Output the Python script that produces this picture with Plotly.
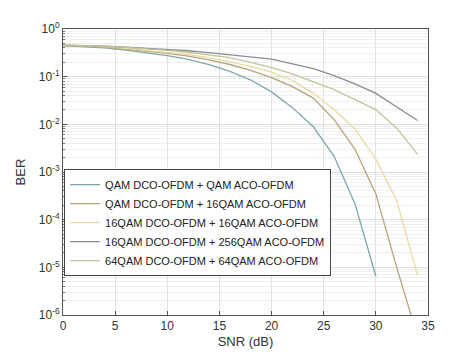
import plotly.graph_objects as go

snr = [0, 2, 4, 6, 8, 10, 12, 14, 16, 18, 20, 22, 24, 26, 28, 30, 32, 34]

names = [
    "QAM DCO-OFDM + QAM ACO-OFDM",
    "QAM DCO-OFDM + 16QAM ACO-OFDM",
    "16QAM DCO-OFDM + 16QAM ACO-OFDM",
    "16QAM DCO-OFDM + 256QAM ACO-OFDM",
    "64QAM DCO-OFDM + 64QAM ACO-OFDM",
]

ber_qam_qam = [0.45, 0.43, 0.40, 0.36, 0.32, 0.275, 0.23, 0.178, 0.129, 0.085,
               0.048, 0.0224, 0.0089, 0.00214, 0.000214, 0.0000065]
ber_qam_16qam = [0.45, 0.435, 0.41, 0.38, 0.345, 0.31, 0.27, 0.225, 0.18, 0.135,
                 0.095, 0.062, 0.0355, 0.0126, 0.0030, 0.000347, 0.00001, 0.00000035]
ber_16qam_16qam = [0.46, 0.445, 0.425, 0.395, 0.36, 0.325, 0.29, 0.25, 0.205, 0.165,
                   0.125, 0.083, 0.0447, 0.0204, 0.0079, 0.00186, 0.00025, 0.0000068]
ber_16qam_256qam = [0.46, 0.45, 0.435, 0.415, 0.395, 0.375, 0.35, 0.32, 0.29, 0.26,
                    0.234, 0.186, 0.148, 0.105, 0.0708, 0.0447, 0.0234, 0.012]
ber_64qam_64qam = [0.46, 0.45, 0.435, 0.41, 0.385, 0.355, 0.325, 0.29, 0.25, 0.2,
                   0.155, 0.115, 0.0794, 0.0537, 0.0331, 0.0204, 0.0083, 0.00235]

series = [ber_qam_qam, ber_qam_16qam, ber_16qam_16qam, ber_16qam_256qam, ber_64qam_64qam]
colors = ["#7ea6ab", "#b9a27c", "#e6dca2", "#8d8b96", "#c3c39a"]

y_tickvals = [1, 0.1, 0.01, 0.001, 1e-4, 1e-5, 1e-6]
y_ticktext = ["10<sup>0</sup>", "10<sup>-1</sup>", "10<sup>-2</sup>", "10<sup>-3</sup>",
              "10<sup>-4</sup>", "10<sup>-5</sup>", "10<sup>-6</sup>"]
x_tickvals = [0, 5, 10, 15, 20, 25, 30, 35]

fig = go.Figure()
for name, ys, c in zip(names, series, colors):
    fig.add_trace(go.Scatter(x=snr[:len(ys)], y=ys, mode="lines", name=name,
                             line=dict(color=c, width=1.3)))

fig.update_layout(
    width=474, height=355,
    margin=dict(l=53, r=54, t=19, b=48),
    paper_bgcolor="white", plot_bgcolor="white",
    font=dict(family="Liberation Sans, Arial", size=12, color="#333333"),
    showlegend=True,
    legend=dict(x=0.003, y=0.51, xanchor="left", yanchor="top",
                bgcolor="white", bordercolor="#444444", borderwidth=1,
                font=dict(size=11, color="#222222"), tracegroupgap=0,
                itemwidth=30),
)
fig.update_xaxes(
    range=[0, 35], tickvals=x_tickvals, showgrid=True, gridcolor="#e2e2e2",
    zeroline=False, showline=True, linecolor="#555555", mirror=True,
    ticks="inside", ticklen=4, tickcolor="#555555",
    title=dict(text="SNR (dB)", standoff=4, font=dict(size=13)),
)
fig.update_yaxes(
    type="log", range=[-6, 0], tickvals=y_tickvals, ticktext=y_ticktext,
    showgrid=True, gridcolor="#e2e2e2", zeroline=False, showline=True,
    linecolor="#555555", mirror=True, ticks="inside", ticklen=4, tickcolor="#555555",
    minor=dict(dtick="D1", showgrid=True, gridcolor="#f0f0f0", ticks="inside",
               ticklen=2, tickcolor="#777777"),
    title=dict(text="BER", standoff=10, font=dict(size=13)),
)

fig.write_html("out.html")
